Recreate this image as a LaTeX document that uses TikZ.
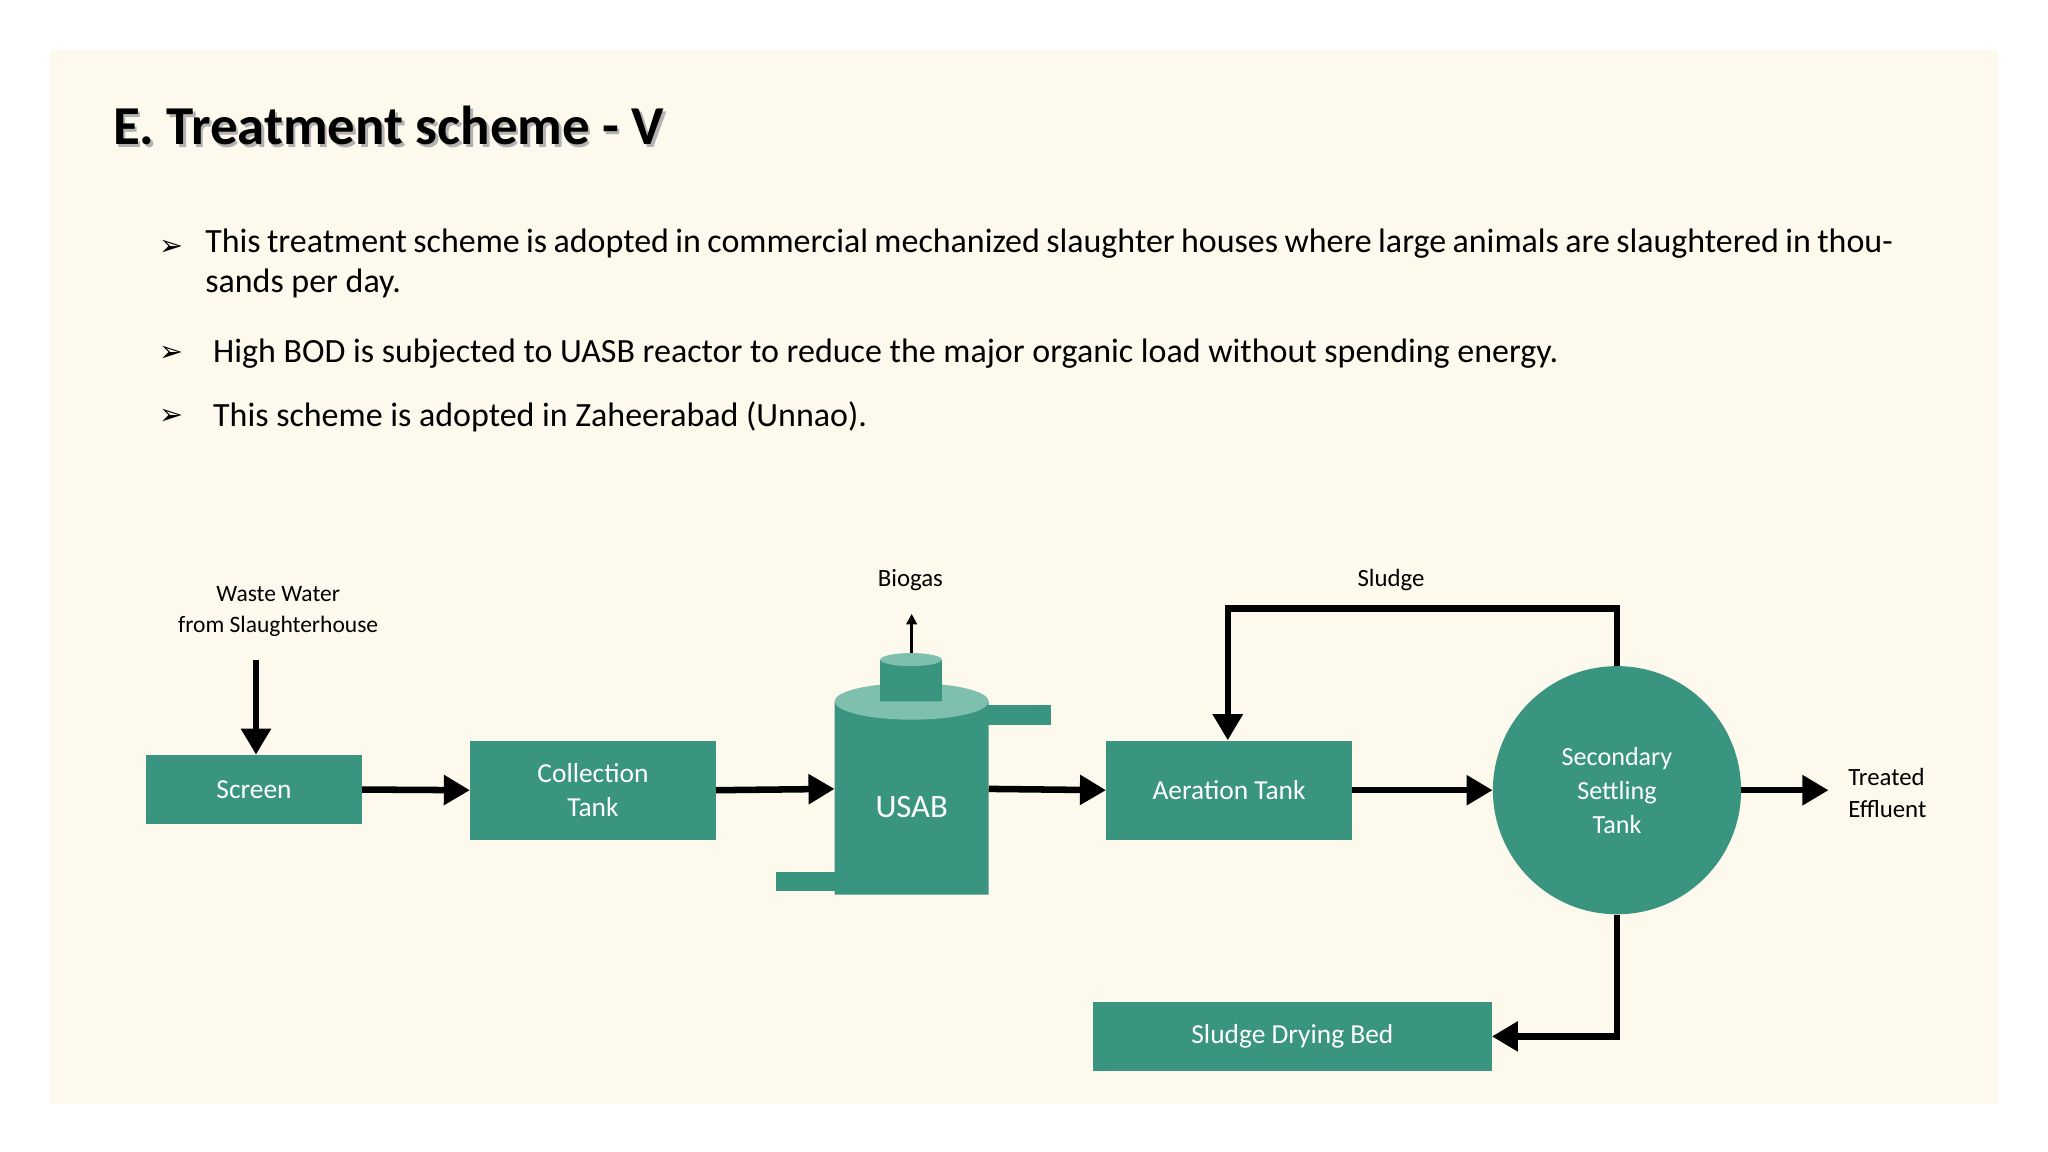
\documentclass[tikz,border=0pt]{standalone}
\usepackage{fontspec}
\setmainfont{Carlito}
\newfontfamily\symfont{DejaVu Sans}
\usetikzlibrary{arrows.meta,positioning,shapes.geometric}
\definecolor{slidebg}{HTML}{FDF9EC}
\definecolor{teal}{HTML}{3A9580}
\definecolor{tealtop}{HTML}{7FBFAE}
\begin{document}
\begin{tikzpicture}[x=1pt,y=-1pt,
    box/.style={rectangle, fill=teal, text=white, align=center, font=\fontsize{21}{26}\selectfont, inner sep=0pt},
    flow/.style={line width=5pt, -{Triangle[length=20pt,width=22pt]}},
    lbl/.style={align=center, font=\fontsize{19}{24}\selectfont},
]
% background
\fill[white] (0,0) rectangle (1568,882);
\useasboundingbox (0,0) rectangle (1568,882);
\fill[slidebg] (38,38) rectangle (1530,845);

% title and bullets
\node[anchor=west, text=gray!60, font=\fontsize{42}{48}\selectfont\bfseries] at (85,98) {E. Treatment scheme - V};
\node[anchor=west, font=\fontsize{42}{48}\selectfont\bfseries] (title) at (83,96) {E. Treatment scheme - V};
\node[anchor=north west, text width=1292pt, align=justify, inner sep=0pt, font=\fontsize{26}{31}\selectfont] (b1) at (157,175)
  {This treatment scheme is adopted in commercial mechanized slaughter houses where large animals are slaughtered in thousands per day.};
\node[anchor=west, font=\fontsize{26}{31}\selectfont, inner sep=0pt] (b2) at (163,271) {High BOD is subjected to UASB reactor to reduce the major organic load without spending energy.};
\node[anchor=west, font=\fontsize{26}{31}\selectfont, inner sep=0pt] (b3) at (163,319) {This scheme is adopted in Zaheerabad (Unnao).};
\foreach \y in {190,271,319}
  \node[font=\symfont\fontsize{22}{26}\selectfont] at (131,\y) {➢};

% process units
\node[box, minimum width=165pt, minimum height=53pt] (screen) at (194.5,604.5) {Screen};
\node[box, minimum width=188pt, minimum height=76pt] (coll) at (454,605) {Collection\\Tank};
\node[box, minimum width=188pt, minimum height=76pt] (aer) at (941,605) {Aeration Tank};
\node[circle, fill=teal, text=white, align=center, minimum size=190pt, font=\fontsize{20}{26}\selectfont] (sst) at (1238,605) {Secondary\\Settling\\Tank};
\node[box, minimum width=305pt, minimum height=53pt] (sdb) at (989.5,793.5) {Sludge Drying Bed};

% USAB reactor
\fill[teal] (594,668) rectangle (645,682);
\fill[teal] (750,540) rectangle (805,555);
\fill[teal] (639,537) rectangle (757,685) arc[start angle=0, end angle=-180, x radius=59, y radius=12];
\fill[tealtop] (698,537) ellipse[x radius=59, y radius=14];
\fill[teal] (674,537) rectangle (721,505);
\fill[teal] (674,537) arc[start angle=180, end angle=360, x radius=23.5, y radius=4];
\fill[tealtop] (697.5,505) ellipse[x radius=23.5, y radius=5];
\node[text=white, font=\fontsize{25}{30}\selectfont] (usab) at (698,618) {USAB};
\coordinate (usabL) at (639,604);
\coordinate (usabR) at (757,604);
\coordinate (usabT) at (698,500);

% labels
\node[lbl, font=\fontsize{18}{24}\selectfont] (ww) at (213,468) {Waste Water\\from Slaughterhouse};
\node[lbl] (biogas) at (697,444) {Biogas};
\node[lbl] (sludge) at (1065,444) {Sludge};
\node[lbl, align=left] (eff) at (1445,607) {Treated\\Effluent};

% connectors
\draw[flow] (196,505) -- (screen.north -| 196,0);
\draw[flow] (screen.east) -- (coll.west);
\draw[flow] (coll.east) -- (usabL);
\draw[flow] (usabR) -- (aer.west);
\draw[flow] (aer.east) -- (sst.west);
\draw[flow] (sst.east) -- (1400,605);
\draw[line width=2.5pt, -{Triangle[length=8pt,width=8pt]}] (usabT) -- (698,470);
\draw[flow] (sst.north) |- (940,466) -- (aer.north -| 940,0);
\draw[flow] (sst.south) |- (sdb.east);
\end{tikzpicture}
\end{document}
